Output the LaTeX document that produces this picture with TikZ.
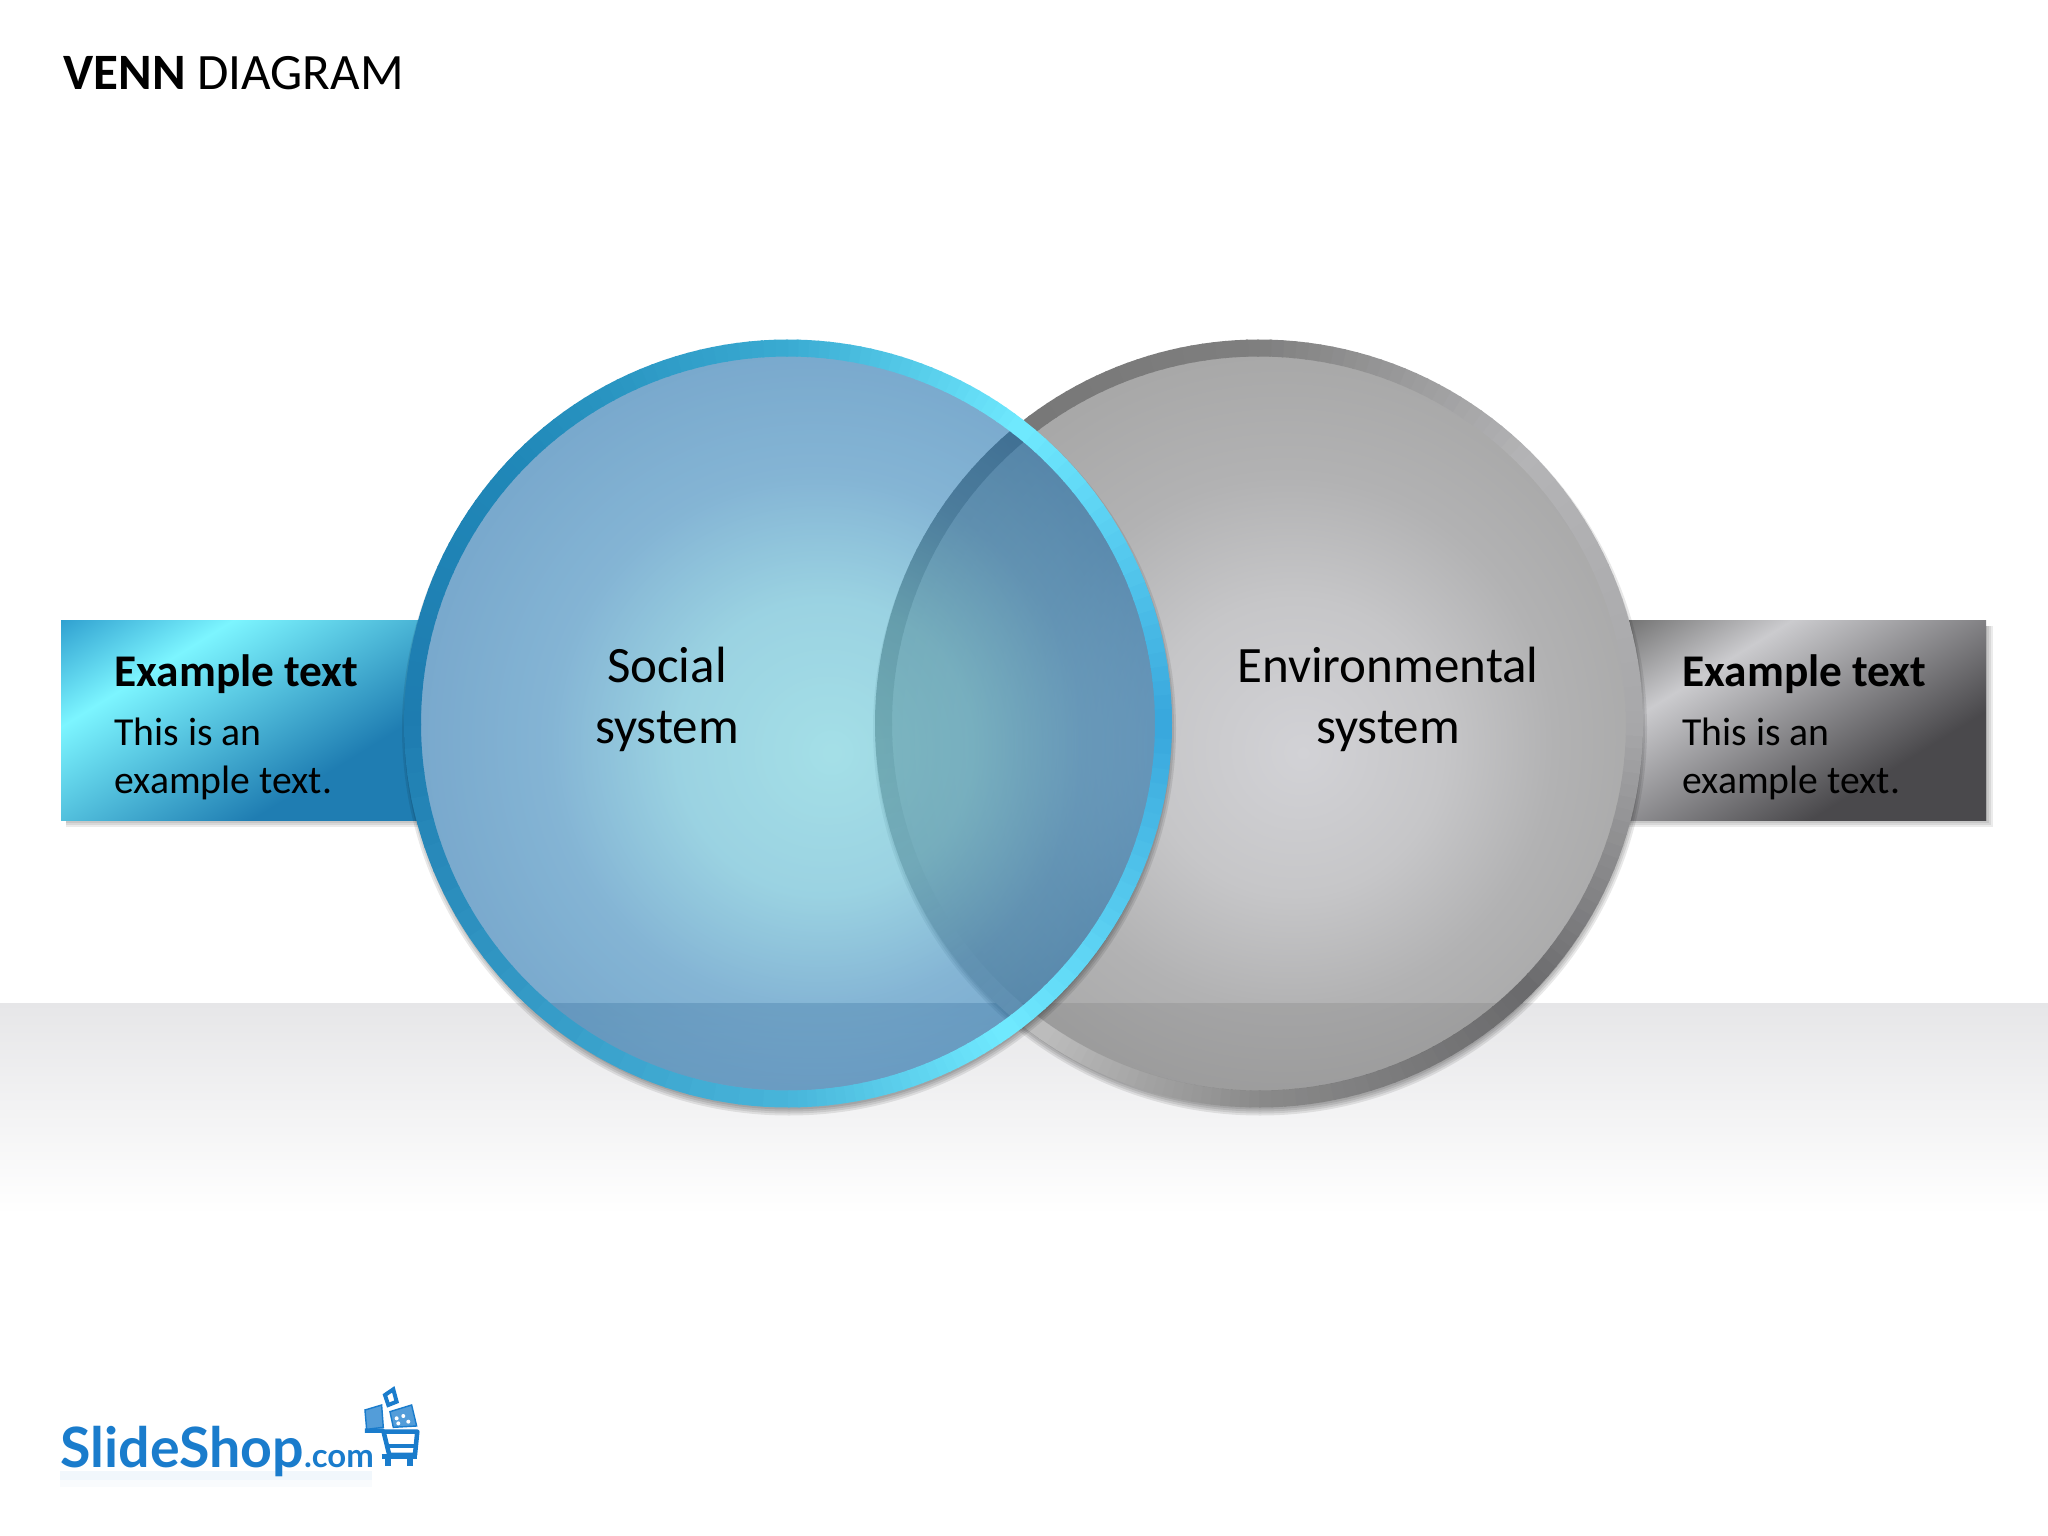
\documentclass[tikz,border=0pt]{standalone}
\usepackage{fontspec}
\setmainfont{Carlito}
\newfontfamily\logofont{Lato}
\usetikzlibrary{calc}
\definecolor{bA}{HTML}{1E7CB0}\definecolor{bB}{HTML}{48B5DA}\definecolor{bC}{HTML}{70EAFF}
\definecolor{bD}{HTML}{38A6DC}\definecolor{bE}{HTML}{3AABD2}\definecolor{bF}{HTML}{2088B8}
\definecolor{gA}{HTML}{8A8A8A}\definecolor{gB}{HTML}{BDBDBD}\definecolor{gC}{HTML}{8A8A8A}
\definecolor{gD}{HTML}{6A6A6C}\definecolor{gE}{HTML}{A8A8AA}\definecolor{gF}{HTML}{B4B4B6}
\definecolor{gG}{HTML}{7F7F7F}\definecolor{gH}{HTML}{777777}
\definecolor{logoblue}{HTML}{1A7CCC}
\definecolor{bandtop}{HTML}{E6E6E8}
\definecolor{floorblue}{HTML}{175B94}
\definecolor{rb1}{HTML}{2FA0D0}\definecolor{rb2}{HTML}{7CF5FF}\definecolor{rb3}{HTML}{1F7DB2}
\definecolor{rg1}{HTML}{6E6E6E}\definecolor{rg2}{HTML}{CBCBCE}\definecolor{rg3}{HTML}{4A494C}
\definecolor{ib0}{RGB}{96,200,214}\definecolor{ib1}{RGB}{79,177,204}\definecolor{ib2}{RGB}{40,125,181}\definecolor{ib3}{RGB}{21,105,168}
\definecolor{ig0}{HTML}{D2D2D6}\definecolor{ig1}{HTML}{C6C6C8}\definecolor{ig2}{HTML}{B2B2B3}\definecolor{ig3}{HTML}{A8A8A8}
\pgfdeclareverticalshading{bluemetal}{100bp}{color(0bp)=(rb3);color(25bp)=(rb3);color(38bp)=(rb3);color(62.5bp)=(rb2);color(75bp)=(rb1);color(100bp)=(rb1)}
\pgfdeclareverticalshading{graymetal}{100bp}{color(0bp)=(rg3);color(25bp)=(rg3);color(38bp)=(rg3);color(62.5bp)=(rg2);color(75bp)=(rg1);color(100bp)=(rg1)}
\pgfdeclareradialshading{bluein}{\pgfpoint{3bp}{-2bp}}{color(0bp)=(ib0);color(10bp)=(ib1);color(18bp)=(ib2);color(26bp)=(ib3);color(50bp)=(ib3)}
\pgfdeclareradialshading{grayin}{\pgfpoint{3bp}{-2bp}}{color(0bp)=(ig0);color(10bp)=(ig1);color(18bp)=(ig2);color(26bp)=(ig3);color(50bp)=(ig3)}
\newcommand{\ringarc}[5]{%
  \pgfmathsetmacro{\da}{(#3-#2)/24}%
  \foreach \k in {0,...,23}{%
    \pgfmathsetmacro{\sa}{-(#2+\k*\da)}%
    \pgfmathsetmacro{\ea}{-(#2+(\k+1)*\da+0.3)}%
    \pgfmathsetmacro{\mixv}{(\k+.5)/24*100}%
    \fill[#5!\mixv!#4] ($(#1)+(\sa:384)$) arc[start angle=\sa,end angle=\ea,radius=384]
       -- ($(#1)+(\ea:367)$) arc[start angle=\ea,end angle=\sa,radius=367] -- cycle;
  }}
\tikzset{
  head/.style={font=\fontsize{16}{18}\selectfont\bfseries,anchor=base west,inner sep=0pt},
  body/.style={font=\fontsize{14}{17}\selectfont,anchor=north west,align=left,inner sep=0pt},
  big/.style={font=\fontsize{18}{21.8}\selectfont,align=center,inner sep=0pt},
  logoitem/.style={fill=logoblue!75,draw=logoblue,line width=.5pt}
}
\begin{document}
\begin{tikzpicture}[x=0.3515625bp,y=-0.3515625bp]
\useasboundingbox (0,0) rectangle (2048,1536);
\fill[white] (0,0) rectangle (2048,1536);
\coordinate (cb) at (788,723.5);
\coordinate (cg) at (1259,723.5);
% floor band
\shade[top color=bandtop,bottom color=white] (0,1003) rectangle (2048,1215);
% text panels: shadows
\foreach \r in {1,3,5,7}{
  \fill[black,opacity=.08] (66,820) rectangle (418,820+\r);
  \fill[black,opacity=.08] (1620,626) rectangle (1986+\r,820+\r);
}
% text panels
\begin{scope}
  \clip (61,620) rectangle (418,820);
  \shade[shading=bluemetal,shading angle=31.7] (239.5-184,724-184) rectangle (239.5+184,724+184);
\end{scope}
\begin{scope}
  \clip (1620,620) rectangle (1986,820);
  \shade[shading=graymetal,shading angle=31.7] (1803-184,721-184) rectangle (1803+184,721+184);
\end{scope}
% gray circle
\foreach \r in {381,383,385,387}{ \fill[black,opacity=.09] ($(cg)+(1,5)$) circle[radius=\r]; }
\shade[shading=grayin] (cg) circle[radius=370];
\ringarc{cg}{-180}{-125}{gA}{gB}
\ringarc{cg}{-125}{-90}{gB}{gC}
\ringarc{cg}{-90}{-45}{gC}{gD}
\ringarc{cg}{-45}{0}{gD}{gE}
\ringarc{cg}{0}{45}{gE}{gF}
\ringarc{cg}{45}{90}{gF}{gG}
\ringarc{cg}{90}{130}{gG}{gH}
\ringarc{cg}{130}{180}{gH}{gA}
\begin{scope}
  \clip (cg) circle[radius=367];
  \fill[black,opacity=.08] (800,1003) rectangle (1700,1200);
\end{scope}
% shadow of the blue circle falls outside it only
\begin{scope}[even odd rule]
  \clip (0,0) rectangle (2048,1536) (cb) circle[radius=383];
  \foreach \r in {381,383,385,387}{ \fill[black,opacity=.09] ($(cb)+(1,5)$) circle[radius=\r]; }
\end{scope}
% blue circle
\shade[shading=bluein,fill opacity=.57] (cb) circle[radius=370];
\begin{scope}[even odd rule]
  \clip (cb) circle[radius=367];
  \clip (cb) circle[radius=367] (cg) circle[radius=384];
  \fill[floorblue,opacity=.12] (300,1003) rectangle (1300,1200);
\end{scope}
\ringarc{cb}{-180}{-90}{bA}{bB}
\ringarc{cb}{-90}{-55}{bB}{bC}
\ringarc{cb}{-55}{0}{bC}{bD}
\ringarc{cb}{0}{52}{bD}{bC}
\ringarc{cb}{52}{90}{bC}{bE}
\ringarc{cb}{90}{135}{bE}{bF}
\ringarc{cb}{135}{180}{bF}{bA}
% texts
\node[anchor=base west,inner sep=0pt,font=\fontsize{18}{20}\selectfont] (title) at (63,90) {\textbf{VENN} DIAGRAM};
\node[big] (social) at (667,699.5) {Social\\system};
\node[big] (env) at (1388,699.5) {Environmental\\system};
\node[head] (lh) at (114,686.5) {Example text};
\node[body] (lb) at (114,717) {This is an\\example text.};
\node[head] (rh) at (1682,686.5) {Example text};
\node[body] (rb) at (1682,717) {This is an\\example text.};
% logo
\fill[logoblue,opacity=.06] (60,1471) rectangle (372,1480);
\fill[logoblue,opacity=.025] (60,1480) rectangle (372,1487);
\node[anchor=base west,inner sep=0pt,text=logoblue,font=\logofont\bfseries] (logo) at (60,1467)
  {\fontsize{19.6}{22}\selectfont SlideShop\fontsize{11.6}{12}\selectfont.com};
\begin{scope}[shift={(0,1340)},x=0.1171875bp,y=-0.1171875bp]
  \draw[logoblue,line width=1.6pt,line join=round] (1095,272) -- (1150,272) -- (1168,345) -- (1245,345) -- (1252,275) -- (1150,275);
  \draw[logoblue,line width=1.2pt] (1160,318) -- (1245,318);
  \fill[logoblue] (1155,358) rectangle (1172,378);
  \fill[logoblue] (1222,358) rectangle (1240,378);
  \draw[logoblue,line width=1.6pt] (1145,350) -- (1250,350);
  \fill[logoitem] (1095,210) -- (1145,195) -- (1150,262) -- (1100,268) -- cycle;
  \draw[logoblue,line width=1.4pt] (1155,165) -- (1180,148) -- (1190,185) -- (1165,195) -- cycle;
  \fill[logoitem] (1170,215) -- (1235,195) -- (1250,258) -- (1180,262) -- cycle;
  \foreach \dx/\dy in {1190/235,1210/228,1225/245,1195/250}{ \fill[white] (\dx,\dy) circle[radius=6]; }
\end{scope}
\end{tikzpicture}
\end{document}
